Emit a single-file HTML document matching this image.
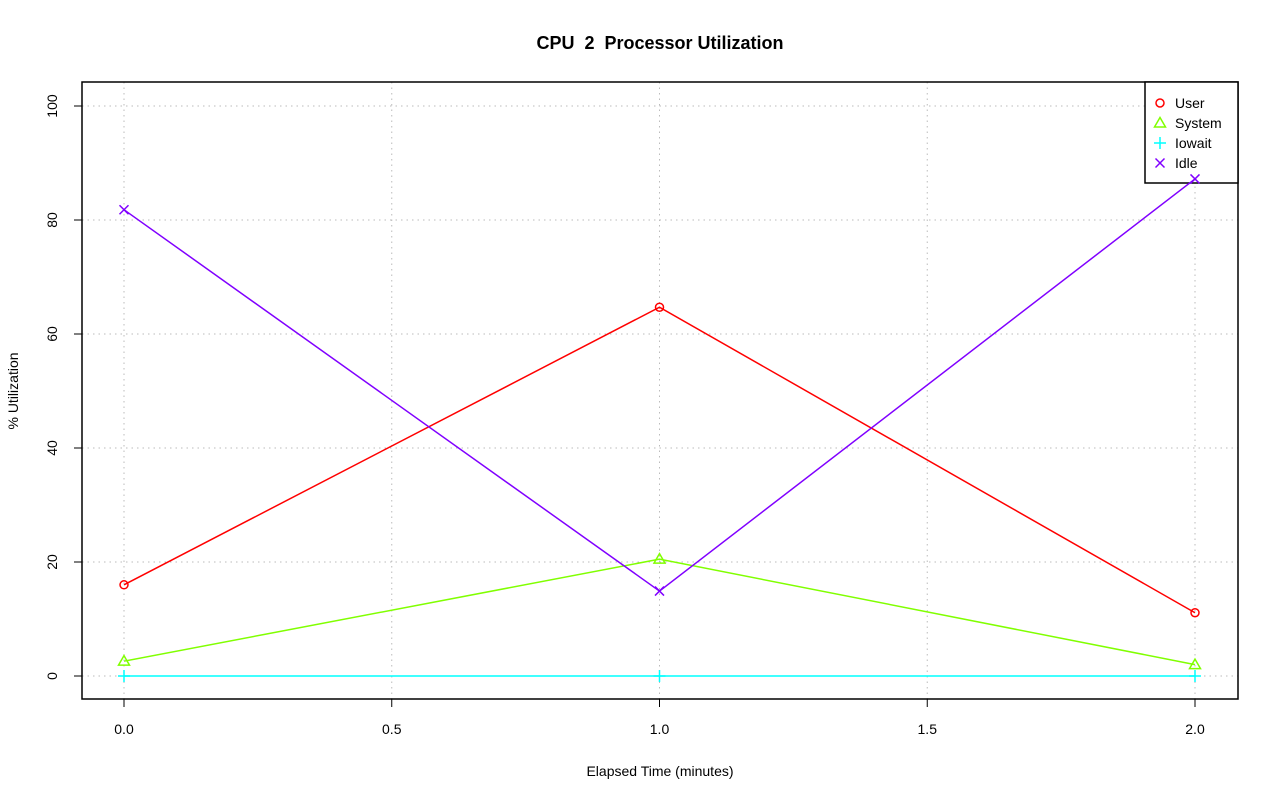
<!DOCTYPE html>
<html><head><meta charset="utf-8"><style>
body{margin:0;background:#fff;}
svg{display:block;font-family:"Liberation Sans",sans-serif;}
</style></head><body>
<svg id="chart" width="1280" height="801" viewBox="0 0 1280 801">
<rect width="1280" height="801" fill="#fff"/>
<text x="660" y="49" text-anchor="middle" font-size="18" font-weight="bold">CPU &#160;2 &#160;Processor Utilization</text>
<text x="660" y="776" text-anchor="middle" font-size="14">Elapsed Time (minutes)</text>
<text x="18" y="391" text-anchor="middle" font-size="14" transform="rotate(-90 18 391)">% Utilization</text>
<g id="grid"></g>
<g id="axes"></g>
<rect x="82" y="82" width="1156" height="617" fill="none" stroke="#000" stroke-width="1.5"/>
<g id="legend"></g>
<g id="series"></g>
</svg>
<script>
const categories = [0, 1, 2];
const xTicks = [0, 0.5, 1, 1.5, 2];
const xTickLabels = ["0.0", "0.5", "1.0", "1.5", "2.0"];
const yTicks = [0, 20, 40, 60, 80, 100];
const userVals = [16.0, 64.7, 11.1];
const systemVals = [2.6, 20.5, 2.0];
const iowaitVals = [0, 0, 0];
const idleVals = [81.8, 14.9, 87.2];
const seriesNames = ["User", "System", "Iowait", "Idle"];

const NS = "http://www.w3.org/2000/svg";
function xs(v){ return 124 + v * (1195 - 124) / 2; }
function ys(v){ return 676 - v * 5.7; }
function mk(tag, attrs, parent){ const e = document.createElementNS(NS, tag); for (const k in attrs) e.setAttribute(k, attrs[k]); parent.appendChild(e); return e; }
const grid = document.getElementById('grid'), axes = document.getElementById('axes'), ser = document.getElementById('series'), leg = document.getElementById('legend');

xTicks.forEach((t, i) => {
  const l = mk('line', {x1: xs(t), x2: xs(t), y1: 82, y2: 699, stroke: '#bbb', 'stroke-dasharray': '1.5 4'}, grid);
  
  
  const tk = mk('line', {x1: xs(t), x2: xs(t), y1: 699, y2: 707, stroke: '#000'}, axes);
  
  
  const tx = mk('text', {x: xs(t), y: 734, 'text-anchor': 'middle', 'font-size': 14}, axes);
  tx.textContent = xTickLabels[i];
  
  
});
yTicks.forEach(t => {
  const l = mk('line', {x1: 82, x2: 1238, y1: ys(t), y2: ys(t), stroke: '#bbb', 'stroke-dasharray': '1.5 4'}, grid);
  
  
  const tk = mk('line', {x1: 74, x2: 82, y1: ys(t), y2: ys(t), stroke: '#000'}, axes);
  
  
  const tx = mk('text', {x: 57, y: ys(t), 'text-anchor': 'middle', 'font-size': 14, transform: `rotate(-90 57 ${ys(t)})`}, axes);
  tx.textContent = String(t);
  
  
});

function marker(type, x, y, color, parent){
  let e;
  if (type === 'circle') e = mk('circle', {cx: x, cy: y, r: 4, fill: 'none', stroke: color, 'stroke-width': 1.5}, parent);
  else if (type === 'tri') e = mk('polygon', {points: `${x},${y-5.5} ${x-5.5},${y+4} ${x+5.5},${y+4}`, fill: 'none', stroke: color, 'stroke-width': 1.5}, parent);
  else if (type === 'plus') e = mk('path', {d: `M${x-6},${y}H${x+6}M${x},${y-6}V${y+6}`, stroke: color, 'stroke-width': 1.5}, parent);
  else e = mk('path', {d: `M${x-4.5},${y-4.5}L${x+4.5},${y+4.5}M${x-4.5},${y+4.5}L${x+4.5},${y-4.5}`, stroke: color, 'stroke-width': 1.5}, parent);
  return e;
}
const allVals = [userVals, systemVals, iowaitVals, idleVals];
const colors = ['#ff0000', '#80ff00', '#00ffff', '#8000ff'];
const markers = ['circle', 'tri', 'plus', 'x'];
allVals.forEach((vals, s) => {
  const g = mk('g', {}, ser);
  
  
  const pl = mk('polyline', {points: vals.map((v, i) => xs(categories[i]) + ',' + ys(v)).join(' '), fill: 'none', stroke: colors[s], 'stroke-width': 1.5}, g);
  
  
  vals.forEach((v, i) => {
    const m = marker(markers[s], xs(categories[i]), ys(v), colors[s], g);
    
    
  });
});
const lb = mk('rect', {x: 1145, y: 82, width: 93, height: 101, fill: '#fff', stroke: '#000', 'stroke-width': 1.5}, leg);


seriesNames.forEach((n, s) => {
  const y = 103 + s * 20;
  const g = mk('g', {}, leg);
  
  
  marker(markers[s], 1160, y, colors[s], g);
  const t = mk('text', {x: 1175, y: y + 5, 'font-size': 14}, g);
  t.textContent = n;
});
</script>
</body></html>
